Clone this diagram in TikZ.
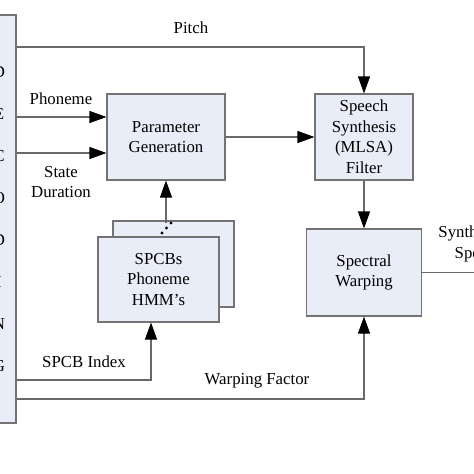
\documentclass[tikz,border=0pt]{standalone}
\usepackage{fontspec}
\setmainfont{Liberation Serif}
\usepackage{tikz}
\usetikzlibrary{arrows.meta}
\definecolor{boxfill}{RGB}{232,237,247}
\definecolor{boxline}{RGB}{115,115,115}
\definecolor{wire}{RGB}{105,105,105}

\begin{document}
\begin{tikzpicture}[x=1pt,y=-1pt,
  block/.style={draw=boxline, fill=boxfill, line width=1.1pt, inner sep=0pt,
    align=center, font=\fontsize{16.8}{20.5}\selectfont},
  lbl/.style={align=center, inner sep=0pt, font=\fontsize{16.8}{20.5}\selectfont},
  arr/.style={draw=wire, line width=1.1pt, -{Triangle[length=17pt,width=12pt,fill=black,color=black]}},
  wireline/.style={draw=wire, line width=1.1pt}]
\useasboundingbox (0,0) rectangle (474,474);
% left column
\node [block, minimum width=34pt, minimum height=408pt, font=\fontsize{16.8}{42}\selectfont] (dec) at (-1,219) {D\\E\\C\\O\\D\\I\\N\\G};
% blocks
\node [block, minimum width=118pt, minimum height=86pt] (pg) at (166,137) {Parameter\\Generation};
\node [block, minimum width=98pt, minimum height=86pt] (ss) at (364,137) {Speech\\Synthesis\\(MLSA)\\Filter};
\node [block, minimum width=115pt, minimum height=87pt] (sw) at (364,272.5) {Spectral\\Warping};
\node [block, minimum width=121pt, minimum height=86pt] (back) at (173.5,264) {};
\node [block, minimum width=121pt, minimum height=85pt] (spcb) at (158.5,279.5) {SPCBs\\Phoneme\\HMM's};
% helper points
\coordinate (phon) at ([yshift=20pt]pg.west);
\coordinate (dur) at ([yshift=-16pt]pg.west);
\coordinate (pitch) at (dec.east |- 0,47);
\coordinate (idx) at ([xshift=-7.5pt]spcb.south);
\coordinate (idxin) at (dec.east |- 0,380);
\coordinate (warp) at (dec.east |- 0,399);
\coordinate (out) at (490,272.5);
% connectors
\path [arr] (pitch) -| (ss.north);
\path [arr] (dec.east |- phon) -- (phon);
\path [arr] (dec.east |- dur) -- (dur);
\path [arr] (pg.east) -- (ss.west);
\path [arr] (ss.south) -- (sw.north);
\path [wireline] (sw.east) -- (out);
\path [arr] (pg.south |- 0,223) -- (pg.south);
\path [arr] (idxin) -| (idx);
\path [arr] (warp) -| (sw.south);
% dots
\fill (162,233) circle (1.6pt);
\fill (166.5,228) circle (1.6pt);
\fill (171,223) circle (1.6pt);
% labels
\node [lbl] (lpitch) at (191,28) {Pitch};
\node [lbl] (lphon) at (61,99) {Phoneme};
\node [lbl] (ldur) at (61,182) {State\\Duration};
\node [lbl] (lidx) at (84,362) {SPCB Index};
\node [lbl] (lwarp) at (257,381) {Warping Factor};
\node [lbl] (lout) at (479,244) {Synthesized\\Speech};
\end{tikzpicture}
\end{document}
